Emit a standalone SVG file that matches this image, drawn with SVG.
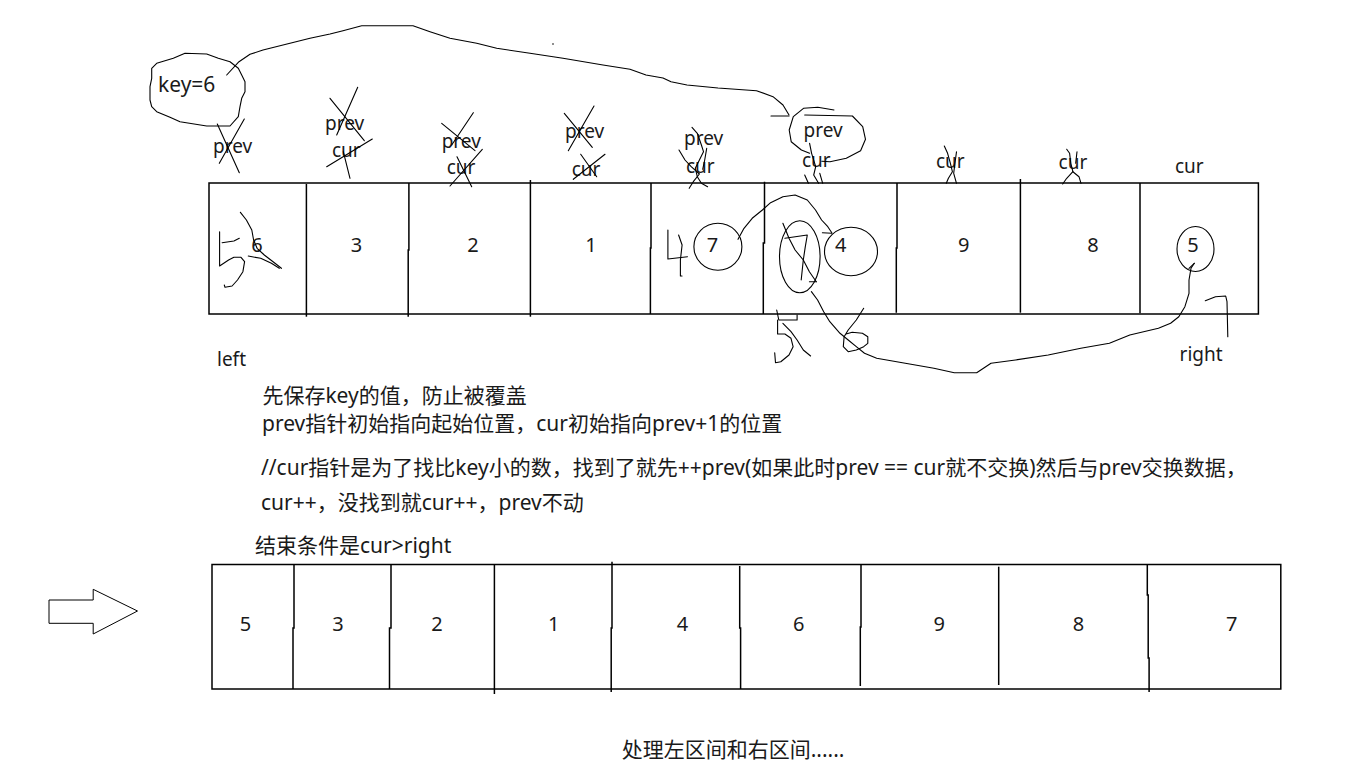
<svg xmlns="http://www.w3.org/2000/svg" width="1351" height="782" viewBox="0 0 1351 782">
<style>
.t{font-family:"Noto Sans","Noto Sans CJK SC",sans-serif;fill:#1a1a1a}
.lb{font-size:19px}
.bd{font-size:21px}
.num{font-size:20px;text-anchor:middle}
.h{fill:none;stroke:#000;stroke-width:1.1;stroke-linejoin:round;stroke-linecap:round}
.cell{fill:none;stroke:#000;stroke-width:1.5}
</style>
<rect width="1351" height="782" fill="#fff"/>

<g id="key-bubble">
<polygon class="h" points="151.7,68.3 156.7,63.3 173.3,58.3 185,53.3 206.7,54 218.3,58.3 230,61.7 238.3,68.3 241.7,75 245,81.7 245,91.7 241.7,98.3 240,106.7 238.3,116.7 230,126 206.7,126 180,121.7 170,117.3 156.7,111.7 151.7,106.7 150,100 150,86.7 151.7,78.3"/>
<text class="t" x="158" y="92" font-size="21">key=6</text>
</g>

<g id="pointer-labels">
<text class="t lb" x="213" y="153">prev</text>
<polyline class="h" points="217.3,124 239.3,172.7"/>
<polyline class="h" points="244.3,119 219.3,163.3"/>

<text class="t lb" x="325" y="130">prev</text>
<text class="t lb" x="332" y="157">cur</text>
<polyline class="h" points="330,98.3 364.3,140.7"/>
<polyline class="h" points="357.7,87.3 336.7,135"/>
<polyline class="h" points="372.3,139 326.7,166.7"/>
<polyline class="h" points="343.3,151.7 350,178.3"/>

<text class="t lb" x="441.7" y="148.3">prev</text>
<text class="t lb" x="446.7" y="174">cur</text>
<polyline class="h" points="441.7,123.3 475,150.7"/>
<polyline class="h" points="473.3,112.7 451.7,145"/>
<polyline class="h" points="482.3,149.3 450,186"/>
<polyline class="h" points="457,156.7 471.7,186.7"/>

<text class="t lb" x="565" y="138.3">prev</text>
<text class="t lb" x="571.7" y="176">cur</text>
<polyline class="h" points="564.3,113.3 592.3,147.3"/>
<polyline class="h" points="594,106 568.3,150.7"/>
<polyline class="h" points="605,154.3 573.3,179.3"/>
<polyline class="h" points="580.7,154.3 596.7,176.7"/>

<text class="t lb" x="684" y="145">prev</text>
<text class="t lb" x="686" y="173">cur</text>
<polyline class="h" points="692,127.3 697.3,133.3 701.4,145 703.5,151.7 699.4,160 695.3,168.3 697.3,176.7 701.4,183.3 707.6,186.7"/>
<polyline class="h" points="679,150 685,160 691.2,166.7 699.4,174 693.3,181.7 689.2,188.3"/>
<polyline class="h" points="706.7,148.3 704.7,160 702.7,169.3"/>

<text class="t lb" x="803.5" y="137.3">prev</text>
<text class="t lb" x="802" y="166.7">cur</text>
<polyline class="h" points="834,110 817.8,107.3 803.5,108.3 793.3,116.7 789.2,130 791.2,141.7 801.4,150 809.6,153.3"/>
<polyline class="h" points="804.7,115 852.4,116 862.7,126.7 865.5,139.3 860.6,150.7 846.3,158.3 830,161.7 821.8,161.3"/>
<polyline class="h" points="809.6,143.3 811.6,153.3 815.7,166.7 813.7,175 818.6,183.3"/>
<polyline class="h" points="804.7,175 808.4,183.3"/>
<polyline class="h" points="819.8,173.3 822.7,183.3"/>

<text class="t lb" x="936" y="168.3">cur</text>
<polyline class="h" points="944.3,146 947.6,153.3 950.4,163.3 952.4,171.7 948.4,178.3 946.3,183.3"/>
<polyline class="h" points="956.5,151.7 954.5,166.7 953.7,173.3 956.5,183.3"/>

<text class="t lb" x="1058.6" y="169.3">cur</text>
<polyline class="h" points="1066.7,149.3 1069.6,153.3 1070.8,163.3 1072.9,171.7 1066.7,178.3 1062.7,184"/>
<polyline class="h" points="1072.9,171.7 1079,176.7 1081,183.3"/>
<polyline class="h" points="1077,151.7 1075.7,163.3"/>

<text class="t lb" x="1175" y="173">cur</text>

<text class="t lb" x="217" y="366">left</text>
<text class="t lb" x="1179.6" y="361">right</text>
</g>

<g id="array-before">
<rect class="cell" x="209" y="183" width="1049.4" height="131"/>
<polyline class="cell" points="306.4,184 306.4,316.7"/>
<polyline class="cell" points="408.9,183 408.9,250 408.2,250 408.2,316.7"/>
<polyline class="cell" points="530.4,180 530.4,316.7"/>
<polyline class="cell" points="651,183 651,248 650.4,248 650.4,314"/>
<polyline class="cell" points="764.5,181.7 764.5,243 763.3,243 763.3,314"/>
<polyline class="cell" points="897,183 897,248 896.3,248 896.3,312.7"/>
<polyline class="cell" points="1020.4,179 1020.4,312.7"/>
<polyline class="cell" points="1140,183 1140,313.3"/>
<text class="t num" x="257" y="251.5">6</text>
<text class="t num" x="356.4" y="251.5">3</text>
<text class="t num" x="473" y="251.5">2</text>
<text class="t num" x="591" y="251.5">1</text>
<text class="t num" x="712.5" y="251.5">7</text>
<text class="t num" x="840.8" y="251.5">4</text>
<text class="t num" x="963.7" y="251.5">9</text>
<text class="t num" x="1093" y="251.5">8</text>
<text class="t num" x="1193" y="251.5">5</text>
</g>

<g id="handwriting">
<polyline class="h" points="239.3,238.3 233.9,241 222.1,242.7"/>
<polyline class="h" points="219.6,231.7 219.6,266 228.6,260 233.9,257.3 241,257.3 244.6,261.7 242.9,271.7 237.5,280 232.1,286 225,287.3 224.3,285"/>
<polyline class="h" points="240.4,212.3 246.4,220 251.8,230 253.6,240 257.1,248.3 264.3,255 275,263.3 281.4,268.3"/>
<polyline class="h" points="248.2,256 260.7,258.3 271.4,263.3 279.3,268.3"/>

<polyline class="h" points="667.9,230 667.9,259 687.5,256.7"/>
<polyline class="h" points="678.6,235 682.1,245 680.4,260 680.4,276 682,276"/>
<ellipse class="h" cx="717.9" cy="246.7" rx="24" ry="23.5"/>

<ellipse class="h" cx="851" cy="251.5" rx="26.5" ry="24.3"/>
<ellipse class="h" cx="799.8" cy="256.7" rx="20.3" ry="36"/>
<polyline class="h" points="784.9,238.3 807.3,235 805.3,246.7 803.3,260 801.2,280"/>
<polyline class="h" points="782.9,223.3 789,238.3 795.1,250 803.3,260 809.4,271.7 816.3,281.7"/>
<polyline class="h" points="809.4,281.7 816.3,281.7"/>

<polyline class="h" points="776.7,310 778.8,320 797.1,320 797.1,315"/>
<polyline class="h" points="777.6,320 777.6,334 784.9,334 791,338.3 793.1,346.7 789,355 780.8,361.7 775.5,362.7 774.7,352.7"/>
<polyline class="h" points="782.9,323.3 791,331.7 797.1,340 803.3,350 810.6,356"/>

<polyline class="h" points="863.7,308.3 856.3,320 848.2,330 844.1,336.7 843.3,346.7 848.2,351.7 856.3,350 863.7,346.7 867.8,343.3 867.8,336.7 862.4,333.3 852.2,332.3 846.1,334"/>

<ellipse class="h" cx="1195.5" cy="249" rx="18.5" ry="22.5"/>
<polyline class="h" points="1205.3,300.7 1215.5,296.7 1225.7,296 1227,301.7 1227.8,336.7"/>
<circle cx="553" cy="44" r="0.8" fill="#000"/>
</g>

<g id="connectors">
<polyline class="h" points="226.7,75 239,61.7 250,54.3 263,50 290,43.3 310,38.3 330,34 343,30.7 361.7,25.7 413,25.7 430,31.7 450,38.3 476.7,43.3 496.7,48.3 530,53.3 563,58.3 603,65 630,69.3 646,75 663,78 671,81.7 687,85 718,88 756.5,90.7 773,96.7 783,105 789,115"/>
<polyline class="h" points="771,116 789,116"/>
<polyline class="h" points="738,239.3 744,228.3 752.2,218.3 762.4,210 770.6,202.7 782.9,196.7 795.1,195 807.3,200 815.5,210 821.6,220 827.8,226.7 831.8,232.7"/>
<polyline class="h" points="822.4,232.7 831.8,233.3"/>
<polyline class="h" points="811.4,291.7 817.6,300 823.7,311.7 829.8,321.7 840,333.3 848.2,340 856.3,346.7 864.5,353.3 876.7,358.3 905.3,363.3 933.9,368.3 954.3,372.7 976.7,372.7 991,363.3 1015.5,360 1048.2,355 1080.8,348.3 1109.4,343.3 1129.8,335 1158.4,328.3 1170.6,323.3 1178.8,316.7 1184.9,306.7 1189,293.3 1189,280 1191,268.3 1194.3,263.3"/>
<polyline class="h" points="1189,268.3 1194.3,263.3"/>
</g>

<g id="notes">
<text class="t bd" x="262.4" y="403">先保存key的值，防止被覆盖</text>
<text class="t bd" x="262" y="431">prev指针初始指向起始位置，cur初始指向prev+1的位置</text>
<text class="t bd" x="261" y="475">//cur指针是为了找比key小的数，找到了就先++prev(如果此时prev == cur就不交换)然后与prev交换数据，</text>
<text class="t bd" x="261" y="510">cur++，没找到就cur++，prev不动</text>
<text class="t bd" x="255" y="553">结束条件是cur&gt;right</text>
</g>

<g id="result-arrow">
<polygon points="49,600 93.2,600 93.2,589.3 137.5,611 93.2,634 93.2,623.3 49,623.3" fill="#fff" stroke="#000" stroke-width="1"/>
</g>

<g id="array-after">
<rect class="cell" x="212" y="564.5" width="1068.8" height="124.5"/>
<polyline class="cell" points="294,564.5 294,628 293,628 293,689"/>
<polyline class="cell" points="391,564.5 391,628 389.5,628 389.5,689"/>
<polyline class="cell" points="494.4,564.5 494.4,694"/>
<polyline class="cell" points="612,561.7 612,628 611.2,628 611.2,692"/>
<polyline class="cell" points="739.7,566 739.7,628 740.6,628 740.6,689"/>
<polyline class="cell" points="861,565 861,627 860.3,627 860.3,686"/>
<polyline class="cell" points="998.7,566.7 998.7,685"/>
<polyline class="cell" points="1147.3,564.5 1147.3,595 1148.2,595 1148.2,658 1149.1,658 1149.1,692"/>
<text class="t num" x="245.4" y="631">5</text>
<text class="t num" x="338" y="631">3</text>
<text class="t num" x="437" y="631">2</text>
<text class="t num" x="553.7" y="631">1</text>
<text class="t num" x="682.6" y="631">4</text>
<text class="t num" x="798.7" y="631">6</text>
<text class="t num" x="939.3" y="631">9</text>
<text class="t num" x="1078.6" y="631">8</text>
<text class="t num" x="1231.7" y="631">7</text>
</g>

<g id="footer">
<text class="t bd" x="621.7" y="757">处理左区间和右区间......</text>
</g>
</svg>
